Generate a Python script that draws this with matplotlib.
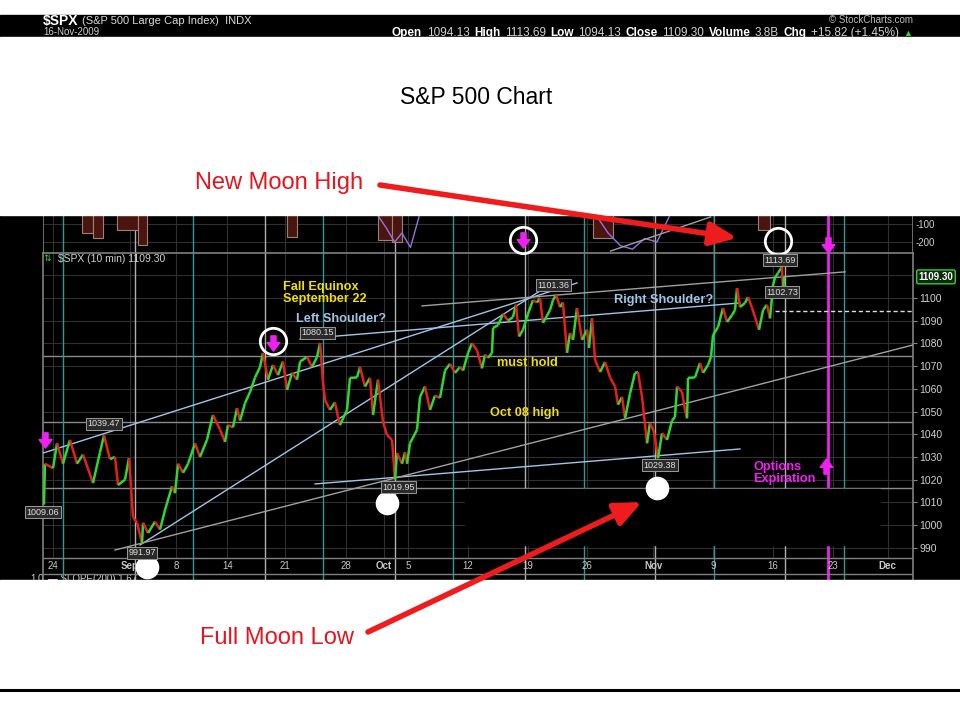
import matplotlib
matplotlib.use("Agg")
import matplotlib.pyplot as plt
from matplotlib.collections import LineCollection
from matplotlib.patches import Rectangle
from matplotlib.path import Path

plt.rcParams['font.family'] = ['Liberation Sans', 'DejaVu Sans']

# S&P 500, 10 min bars, 21 Aug - 16 Nov 2009
# x = trading days counted from Mon 24 Aug 2009
days = [-0.74, -0.66, 0.0, 0.33, 0.82, 1.39, 1.97, 2.46, 3.28, 3.85,
        4.18, 4.67, 5.08, 5.33, 5.90, 6.23, 6.39, 6.56, 6.89, 7.30,
        7.38, 7.79, 8.36, 8.77, 9.18, 9.75, 10.0, 10.25, 10.66, 11.07,
        11.64, 12.05, 12.62, 13.11, 13.69, 14.10, 14.34, 14.75, 15.08, 15.33,
        15.74, 16.15, 16.56, 16.97, 17.21, 17.62, 18.03, 18.44, 18.85, 19.18,
        19.59, 20.0, 20.25, 20.82, 21.23, 21.64, 21.89, 22.13, 22.30, 22.70,
        23.11, 23.36, 23.52, 24.10, 24.34, 24.92, 25.16, 25.57, 25.98, 26.23,
        26.64, 27.05, 27.38, 27.79, 28.03, 28.20, 28.61, 28.85, 29.02, 29.26,
        29.84, 30.08, 30.49, 30.90, 31.31, 31.72, 32.13, 32.54, 32.95, 33.36,
        33.61, 34.02, 34.34, 34.75, 35.16, 35.41, 35.66, 35.98, 36.07, 36.48,
        36.89, 37.30, 37.70, 37.95, 38.20, 38.52, 38.93, 39.34, 39.67, 39.92,
        40.16, 40.74, 40.98, 41.23, 41.56, 41.80, 42.13, 42.38, 42.62, 42.95,
        43.36, 43.77, 43.93, 44.18, 44.43, 44.84, 45.25, 45.66, 46.07, 46.31,
        46.64, 46.89, 47.30, 47.70, 47.95, 48.28, 48.69, 48.93, 49.26, 49.59,
        49.92, 50.33, 50.74, 50.98, 51.15, 51.56, 51.80, 51.97, 52.05, 52.62,
        53.03, 53.28, 53.69, 53.93, 54.10, 54.51, 54.92, 55.25, 55.66, 55.90,
        56.07, 56.31, 56.72, 56.97, 57.30, 57.54, 57.87, 58.20, 58.52, 58.77,
        59.02, 59.18, 59.43, 59.75, 59.84, 59.92]
prices = [1009, 1027, 1025, 1036, 1027, 1037.5, 1027, 1031, 1018.5, 1032,
          1039.5, 1029, 1030, 1017.6, 1020, 1029.5, 1017, 1003.5, 1001, 992,
          1001, 996.5, 1001.5, 998, 1006.6, 1017, 1014, 1027, 1023, 1027,
          1036, 1030, 1037.5, 1048.5, 1042, 1036.6, 1044, 1043, 1051.5, 1046,
          1053.7, 1058.6, 1065, 1069.6, 1075.8, 1064, 1070.5, 1066, 1072, 1059.5,
          1067, 1064, 1072, 1074, 1069.6, 1074, 1080.2, 1062.6, 1055, 1050.7,
          1054, 1047.6, 1044, 1050.7, 1064.8, 1065, 1069.6, 1061, 1064.8, 1048.5,
          1064, 1045.4, 1039.6, 1037.5, 1020, 1031.7, 1027, 1032, 1027, 1036,
          1042, 1056.4, 1061, 1050.7, 1057, 1056, 1068, 1071, 1067, 1069.6,
          1068, 1075.8, 1080, 1077, 1069, 1075, 1073.6, 1075.8, 1086.8, 1088,
          1093, 1090, 1091.6, 1097, 1083, 1086, 1093, 1099, 1098, 1100,
          1089, 1094.7, 1099, 1101.4, 1096, 1098, 1075.8, 1084.6, 1081.5, 1095.6,
          1081.5, 1086, 1078, 1091, 1072.7, 1067.4, 1071.8, 1065, 1061, 1053,
          1056.4, 1047, 1058, 1067, 1067.4, 1056.4, 1036, 1045, 1041, 1029.4,
          1040.5, 1037.5, 1046, 1047.6, 1061, 1058.6, 1050.7, 1047, 1064.8, 1065,
          1071.4, 1067, 1070.5, 1074, 1083.7, 1087.2, 1095.6, 1089.4, 1092.5, 1094.7,
          1104.4, 1096, 1097.8, 1100.4, 1095.6, 1091.6, 1086, 1094.7, 1097, 1091,
          1105.7, 1109, 1111, 1113.7, 1102.7, 1109.3]
open_price = 1094.13

tick_days = [0, 6.3, 10.1, 14.3, 19.0, 24.0, 27.1, 29.1, 34.0, 38.9, 43.8, 49.2, 54.1, 59.0, 63.9, 68.4]
tick_labels = ['24', 'Sep', '8', '14', '21', '28', 'Oct', '5', '12', '19', '26', 'Nov', '9', '16', '23', 'Dec']
months = ['Sep', 'Oct', 'Nov', 'Dec']

moon_days = [6.72, 17.38, 28.03, 38.69, 49.34, 60.0]        # white lines
quarter_days = [0.82, 11.48, 22.13, 32.79, 43.52, 54.18, 64.84]  # cyan lines
opex_day = 63.52

price_levels = [990, 1000, 1010, 1020, 1030, 1040, 1050, 1060, 1070, 1080, 1090, 1100, 1110]
key_levels = [1074.5, 1045.5, 1016.2]

# trend lines: (day0, price0, day1, price1)
blue_lines = [(-0.82, 1031.7, 42.95, 1106.6),
              (7.13, 991.2, 40.57, 1105.3),
              (21.48, 1018.1, 56.31, 1033.5),
              (20.25, 1081.9, 56.31, 1097.8)]
gray_lines = [(5.08, 989.0, 70.49, 1079.3),
              (30.25, 1096.5, 64.92, 1111.5)]

value_tags = [(4.18, 1044.5, '1039.47'), (-0.82, 1005.7, '1009.06'), (7.3, 987.7, '991.97'),
              (21.7, 1084.6, '1080.15'), (28.3, 1016.7, '1019.95'), (41.0, 1105.7, '1101.36'),
              (49.75, 1026.4, '1029.38'), (59.6, 1116.7, '1113.69'), (59.75, 1102.6, '1102.73')]

down_arrows = [(-0.66, 1037.4), (18.03, 1080.2), (38.52, 1125.6), (63.52, 1123.3)]
up_arrows = [(63.36, 1026.0)]
hollow_moons = [(18.03, 1081.1), (38.52, 1125.6), (59.43, 1125.1)]
full_moons = [(27.38, 1009.7), (49.51, 1016.3), (7.70, 981.5)]

# upper indicator pane: bars (start, end, value) and two lines
ind_bars = [(2.38, 3.25, -150), (3.25, 4.11, -178), (5.25, 7.0, -135), (7.0, 7.7, -215),
            (19.2, 20.0, -172), (26.6, 27.8, -189), (27.8, 28.6, -200),
            (44.3, 45.9, -178), (57.8, 58.8, -133)]
ind_line1_x = [26.5, 27.3, 28.0, 28.6, 29.3, 30.0]
ind_line1_y = [-40, -120, -200, -150, -230, -60]
ind_line2_x = [44.5, 45.5, 46.5, 47.5, 48.5, 49.5, 50.5]
ind_line2_y = [-50, -150, -220, -240, -180, -200, -60]
ind_trend = (45.7, -250, 53.9, -61)

quote = [('Open', True), ('1094.13', False), ('High', True), ('1113.69', False),
         ('Low', True), ('1094.13', False), ('Close', True), ('1109.30', False),
         ('Volume', True), ('3.8B', False), ('Chg', True), ('+15.82 (+1.45%)', False)]

W, H = 960, 720
XL = (-0.82, 70.49)
GREEN, RED, MAG = '#2fd82f', '#e8201c', '#f020f0'
LBLUE, GRAY, CYAN, WLINE = '#9ec5e8', '#a0a0a0', '#2a9a9a', '#b0b0b0'


def fbox(x0, y0, x1, y1):
    return [x0 / W, 1 - y1 / H, (x1 - x0) / W, (y1 - y0) / H]


fig = plt.figure(figsize=(9.6, 7.2), dpi=100)

back = fig.add_axes([0, 0, 1, 1], zorder=0)
back.set_xlim(0, W)
back.set_ylim(H, 0)
back.axis('off')
back.add_patch(Rectangle((0, 15), W, 565, color='black'))

ind = fig.add_axes(fbox(43, 215, 913, 253), zorder=1)
ax = fig.add_axes(fbox(43, 253, 913, 580), zorder=2)
front = fig.add_axes([0, 0, 1, 1], zorder=3)

# ---- indicator pane
ind.set_facecolor('none')
ind.set_xlim(*XL)
ind.set_ylim(-261, -50)
ind.set_xticks([])
ind.yaxis.tick_right()
ind.set_yticks([-100, -200], ['-100', '-200'])
ind.tick_params(axis='y', length=0, pad=2, labelsize=7, labelcolor='#cccccc')
for s in ind.spines.values():
    s.set_visible(False)
ind.axvline(XL[0], color='#808080', lw=1.2)
ind.axvline(XL[1], color='#808080', lw=1.2)
ind.vlines(tick_days, -261, -50, color='#2f2f2f', lw=0.8, zorder=0.5)
ind.hlines([-100, -200], XL[0], XL[1], color='#2f2f2f', lw=0.8, zorder=0.5)
for d in moon_days:
    ind.axvline(d, color=WLINE, lw=1, zorder=1)
for d in quarter_days:
    ind.axvline(d, color=CYAN, lw=1, zorder=1)
ind.axvline(opex_day, color=MAG, lw=2, zorder=1)
for a, b, v in ind_bars:
    ind.bar(a, v, width=b - a, align='edge', color='#4a1510', edgecolor='#a08070', lw=0.8, zorder=2)
ind.plot(ind_line1_x, ind_line1_y, color='#9a70e0', lw=1, zorder=3)
ind.plot(ind_line2_x, ind_line2_y, color='#9a70e0', lw=1, zorder=3)
ind.plot(ind_trend[::2], ind_trend[1::2], color=GRAY, lw=1, zorder=3)

# ---- price pane
ax.set_facecolor('none')
ax.set_xlim(*XL)
ax.set_ylim(975.8, 1119.8)
for k in ('top', 'left', 'right'):
    ax.spines[k].set_color('#808080')
    ax.spines[k].set_linewidth(1.2)
ax.spines['bottom'].set_visible(False)

ax.yaxis.tick_right()
ax.set_yticks(price_levels[:-1])
ax.tick_params(axis='y', length=3, color='#888888', pad=1.5, labelsize=7.5, labelcolor='#d0d0d0')
ax.set_xticks(tick_days, tick_labels)
ax.tick_params(axis='x', direction='in', length=0, pad=-14, labelsize=7, labelcolor='#c8c8c8')
for t in ax.get_xticklabels():
    if t.get_text() in months:
        t.set_fontweight('bold')

ax.hlines(price_levels, XL[0], XL[1], color='#2f2f2f', lw=0.8, zorder=0.5)
ax.vlines(tick_days, 985.5, 1119.8, color='#2f2f2f', lw=0.8, zorder=0.5)
ax.hlines(key_levels, XL[0], XL[1], color='#8a8a8a', lw=1, zorder=0.8)
ax.axhline(985.5, color='#808080', lw=1)
ax.axhline(978.5, color='#808080', lw=1)
for d in moon_days:
    ax.axvline(d, color=WLINE, lw=1, zorder=1)
for d in quarter_days:
    ax.axvline(d, color=CYAN, lw=1, zorder=1)
ax.axvline(opex_day, color=MAG, lw=2, zorder=1)

# blank box over the lower middle of the pane
ax.add_patch(Rectangle((33.77, 991.2), 34.0, 24.7, color='black', zorder=2))

for x0, y0, x1, y1 in blue_lines:
    ax.plot([x0, x1], [y0, y1], color=LBLUE, lw=1, zorder=3)
for x0, y0, x1, y1 in gray_lines:
    ax.plot([x0, x1], [y0, y1], color=GRAY, lw=1, zorder=3)
ax.hlines(open_price, 59.2, XL[1], color='#dddddd', lw=1, linestyles=(0, (3, 2)), zorder=3)

pts = list(zip(days, prices))
segs = [[pts[i], pts[i + 1]] for i in range(len(pts) - 1)]
cols = [GREEN if prices[i + 1] >= prices[i] else RED for i in range(len(pts) - 1)]
ax.add_collection(LineCollection(segs, colors=cols, linewidths=1.8, zorder=4))

# markers
down_path = Path([(-0.3, 0.9), (0.3, 0.9), (0.3, 0.1), (0.75, 0.1), (0, -0.9),
                  (-0.75, 0.1), (-0.3, 0.1), (-0.3, 0.9)], closed=True)
up_path = Path([(x, -y) for x, y in down_path.vertices], closed=True)
ax.plot([p[0] for p in down_arrows], [p[1] for p in down_arrows], ls='none',
        marker=down_path, ms=11, color=MAG, clip_on=False, zorder=6)
ax.plot([p[0] for p in up_arrows], [p[1] for p in up_arrows], ls='none',
        marker=up_path, ms=11, color=MAG, clip_on=False, zorder=6)
ax.plot([p[0] for p in hollow_moons], [p[1] for p in hollow_moons], ls='none',
        marker='o', ms=19, mfc='none', mec='white', mew=2, clip_on=False, zorder=6)
ax.plot([p[0] for p in full_moons], [p[1] for p in full_moons], ls='none',
        marker='o', ms=16, mfc='white', mec='white', clip_on=False, zorder=6)

for d, p, s in value_tags:
    ax.text(d, p, s, ha='center', va='center', fontsize=6.5, color='#e0e0e0', zorder=7,
            clip_on=False, bbox=dict(boxstyle='square,pad=0.15', fc='#2a2a2a', ec='#9a9a9a', lw=0.7))

note = dict(fontsize=9.2, fontweight='bold', zorder=7, va='center')
ax.text(18.85, 1102.2, 'Fall Equinox\nSeptember 22', color='#f0e000', linespacing=1.0, **note)
ax.text(19.9, 1090.7, 'Left Shoulder?', color=LBLUE, **note)
ax.text(46.0, 1099.1, 'Right Shoulder?', color=LBLUE, **note)
ax.text(36.4, 1071.4, 'must hold', color='#f0e000', **note)
ax.text(35.8, 1049.3, 'Oct 08 high', color='#f0e000', **note)
ax.text(57.4, 1022.7, 'Options\nExpiration', color=MAG, linespacing=1.0, **note)

ax.text(-0.49, 1117.2, '⇅', color=GREEN, fontsize=6.5, va='center', ha='center')
ax.text(0.41, 1117.2, '$SPX (10 min) 1109.30', color='#cfcfcf', fontsize=7.5, va='center')
ax.text(1.0264, prices[-1], '1109.30', transform=ax.get_yaxis_transform(), ha='center', va='center',
        fontsize=7, fontweight='bold', color='white', clip_on=False,
        bbox=dict(boxstyle='round,pad=0.2', fc='#0d2a0d', ec='#33cc33', lw=1))

# ---- header strip
back.text(43, 21, '$SPX', color='white', fontsize=10, fontweight='bold', va='center')
back.text(82, 21, '(S&P 500 Large Cap Index)  INDX', color='#d8d8d8', fontsize=8, va='center')
back.text(43, 32, '16-Nov-2009', color='#cfcfcf', fontsize=7, va='center')
back.text(913, 20, '© StockCharts.com', ha='right', color='#bbbbbb', fontsize=7, va='center')

rend = fig.canvas.get_renderer()
qx = 392
for s, b in quote:
    t = back.text(qx, 36, s, color='white' if b else '#d0d0d0', fontsize=8.5,
                  fontweight='bold' if b else 'normal', va='baseline')
    qx += t.get_window_extent(rend).width + 4.5
back.text(qx, 36, '▲', color=GREEN, fontsize=6.5, va='baseline')

back.text(30, 579, '1.0', color='#cccccc', fontsize=7, va='center')
back.text(48, 579, '▬ SLOPE(200) 1.67', color='#cccccc', fontsize=7, va='center')

# ---- slide overlay
front.set_xlim(0, W)
front.set_ylim(H, 0)
front.axis('off')
front.add_patch(Rectangle((0, 37), W, 178, color='white'))
front.add_patch(Rectangle((0, 580), W, 140, color='white'))
front.plot([0, W], [690, 690], color='black', lw=2.2)
front.text(476, 98, 'S&P 500 Chart', ha='center', va='center', fontsize=16.5, color='black')
front.text(195, 183, 'New Moon High', ha='left', va='center', fontsize=17, color='#e8141c')
front.text(200, 638, 'Full Moon Low', ha='left', va='center', fontsize=17, color='#e8141c')
arrow = dict(arrowstyle='-|>,head_length=0.8,head_width=0.35', color='#ee1c1c', lw=4,
             mutation_scale=20, shrinkA=0, shrinkB=0)
front.annotate('', xy=(737, 238), xytext=(380, 185), arrowprops=arrow)
front.annotate('', xy=(642, 502), xytext=(368, 632), arrowprops=arrow)

fig.savefig('out.png', dpi=100)
